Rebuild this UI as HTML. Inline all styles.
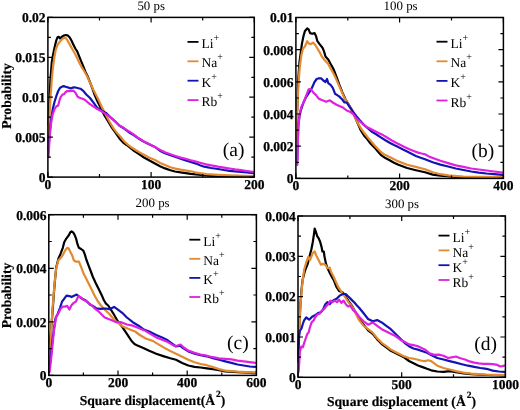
<!DOCTYPE html><html><head><meta charset="utf-8"><title>Probability vs square displacement</title><style>html,body{margin:0;padding:0;background:#fff;}svg{display:block;text-rendering:geometricPrecision;}.tk{font-family:"Liberation Serif",serif;font-weight:bold;font-size:13.5px;fill:#000;stroke:#000;stroke-width:0.25px;}.ti{font-family:"Liberation Serif",serif;font-size:12.9px;fill:#000;}.lg{font-family:"Liberation Serif",serif;font-size:13.5px;fill:#000;}.pl{font-family:"Liberation Serif",serif;font-size:19.5px;fill:#000;}.ax{font-family:"Liberation Serif",serif;font-weight:bold;font-size:13.6px;fill:#000;stroke:#000;stroke-width:0.2px;}</style></head><body>
<svg width="520" height="410" viewBox="0 0 520 410">
<rect width="520" height="410" fill="#fff"/>
<g fill="none" stroke-width="2.2" stroke-linejoin="round" stroke-linecap="round">
<polyline stroke="#000000" points="48.5,125 49.5,99 50.4,80 51.8,62 53.3,53.4 54.8,46.5 56.2,40.7 57.5,37.3 58.7,36.8 60.1,38.5 61.6,37 63.6,35.6 66,35 68,35.6 69.9,37.8 71.6,40.7 73.3,44.6 75.3,48.5 77.2,51.4 79.2,56.3 81.1,61.2 83.1,66 85.5,72 87.5,76 89.9,82 92,87.5 94.3,94 97.3,101.1 101,108.4 104.6,115.7 108.3,121.8 112,127.9 115.6,132.8 119.3,138.2 122.9,142.3 126.6,145 130,147.6 134,150.8 139,154.2 144,157.5 149,160.3 154,163 160,166.2 165,168.4 170.4,170.3 175,171.5 180.6,172.4 190.8,173.8 201,174.8 211.2,175.9 230,176.2 253,176.4"/>
<polyline stroke="#E38A30" points="48.5,142 49.3,118.5 50.4,99 51.8,79.5 53,67 54.3,57.3 55.8,49.5 57.7,44.6 59.7,41.7 62.1,39.2 64,37.8 66,38.4 68,41.2 70.4,45.6 72.8,50 75.3,54.3 77.7,59.2 79.7,63.5 81.5,66.8 84.1,71 87,76 89,80.5 91.4,85.5 93.5,90 96.1,95 99.1,101.1 102.2,107.8 105.9,115.1 109.5,121.8 113.2,127.9 116.8,132.8 120.5,136.8 124.1,141.2 127.8,144.6 132,147.8 136,150.3 140,152.6 144,154.8 149,157.5 155,160 160.2,163 165,165 170.4,167.2 175.5,168.6 180.6,169.7 190.8,171.3 195,172.3 201,173.3 206.5,174.2 218,174.9 229.6,175.4 253,176"/>
<polyline stroke="#1414B4" points="48.5,150 49.5,135 50.5,125 51.5,117 52.7,109.3 54.5,102 56.4,95.9 58.2,91 60,87.9 61.9,86.7 63.7,86.1 65.5,86.7 67.3,87.3 69.2,87.9 71,88.5 72.8,87.6 74.5,87.3 77.5,88 80.4,88.7 83.3,90.9 86.3,94.5 90,98 93.7,102.9 97.3,107.8 101,110.2 105.9,112.9 109.7,116.5 114.5,120.8 119.5,125.8 124.5,128.8 129.2,132.5 134,135.3 139,138.8 144,141.8 149,144.3 155,147 160.2,151 165,153.3 170.4,155.3 175,156.8 180.6,158.6 185,160.2 190.8,162 196,163.6 200,165.2 204.2,166.7 211,168 218,169 224,170 229.6,170.8 235,171.3 241.1,171.9 247,172.5 253,173.1"/>
<polyline stroke="#E020E0" points="48.5,157 49.3,143 50.3,130 51.5,120.2 52.7,114.1 54.5,109.3 56.4,106.2 58.2,105.6 59.4,100.7 60.6,97.1 62.5,94.6 64.3,94 65.5,92.2 67.3,91 69.2,91.2 71.6,91 73.4,90.7 75.3,92.5 77.5,96.5 79.5,97.8 81.1,98.2 84.8,99.7 88.5,103 90,104.1 93.7,106.6 97.3,109 101,110.9 104.6,113.3 108.3,115.7 112,118.8 115.6,121.8 119.3,125.5 122.9,127.3 126.6,129.8 130.2,132.2 133.9,134.6 138.8,138.3 144,141.5 150,144.5 155,147 160.2,149.9 165,152.3 170.4,154.3 175.5,156 180.6,157.6 185.5,158.7 190.8,160.3 196,161.6 201,163 206,164.3 211.2,165.4 218,166.7 224,167.6 229.6,168.5 235,169.4 241.1,170.2 247,171 253,171.9"/>
</g>
<rect x="47.9" y="17.4" width="206.4" height="159.7" fill="none" stroke="#000" stroke-width="1.5"/>
<path d="M47.9 177.1V172.1M47.9 17.4V22.4M99.5 177.1V174.1M99.5 17.4V20.4M151.1 177.1V172.1M151.1 17.4V22.4M202.7 177.1V174.1M202.7 17.4V20.4M254.3 177.1V172.1M254.3 17.4V22.4M47.9 177.1H52.9M254.3 177.1H249.3M47.9 157.1H50.9M254.3 157.1H251.3M47.9 137.2H52.9M254.3 137.2H249.3M47.9 117.2H50.9M254.3 117.2H251.3M47.9 97.2H52.9M254.3 97.2H249.3M47.9 77.3H50.9M254.3 77.3H251.3M47.9 57.3H52.9M254.3 57.3H249.3M47.9 37.4H50.9M254.3 37.4H251.3M47.9 17.4H52.9M254.3 17.4H249.3" stroke="#000" stroke-width="1.2" fill="none"/>
<text class="tk" x="47.9" y="189.1" text-anchor="middle">0</text>
<text class="tk" x="151.1" y="189.1" text-anchor="middle">100</text>
<text class="tk" x="254.3" y="189.1" text-anchor="middle">200</text>
<text class="tk" x="45.6" y="181.9" text-anchor="end">0</text>
<text class="tk" x="45.6" y="142" text-anchor="end">0.005</text>
<text class="tk" x="45.6" y="102" text-anchor="end">0.01</text>
<text class="tk" x="45.6" y="62.1" text-anchor="end">0.015</text>
<text class="tk" x="45.6" y="22.2" text-anchor="end">0.02</text>
<text class="ti" x="151.2" y="10.1" text-anchor="middle">50 ps</text>
<text class="pl" x="244.4" y="156.3" text-anchor="end">(a)</text>
<line x1="187.5" y1="41.9" x2="198.5" y2="41.9" stroke="#000000" stroke-width="1.8"/>
<text class="lg" x="201.5" y="47.9">Li<tspan font-size="10" dy="-7">+</tspan></text>
<line x1="187.5" y1="61.3" x2="198.5" y2="61.3" stroke="#E38A30" stroke-width="1.8"/>
<text class="lg" x="201.5" y="67.3">Na<tspan font-size="10" dy="-7">+</tspan></text>
<line x1="187.5" y1="80.7" x2="198.5" y2="80.7" stroke="#1414B4" stroke-width="1.8"/>
<text class="lg" x="201.5" y="86.7">K<tspan font-size="10" dy="-7">+</tspan></text>
<line x1="187.5" y1="100.1" x2="198.5" y2="100.1" stroke="#E020E0" stroke-width="1.8"/>
<text class="lg" x="201.5" y="106.1">Rb<tspan font-size="10" dy="-7">+</tspan></text>
<g fill="none" stroke-width="2.2" stroke-linejoin="round" stroke-linecap="round">
<polyline stroke="#000000" points="297.2,110 298.2,80 299.5,62 300.6,53.6 302,43.4 303.5,36 305,30.9 307.2,28.4 308.6,29.4 310.1,33.1 312.3,33.8 314.5,33.1 316,36 317.4,41.2 319.6,44.1 322.5,47.7 324,51.4 325.5,56.5 328.4,59.8 330.6,63.9 332.8,67.8 335,72.8 336.8,77.6 339.4,84.9 342.3,92.2 345.2,98.8 348.2,103.9 351.8,109.8 354,114.2 356.6,120.8 361,130.7 364,135.5 367.6,139.5 370.5,143.5 374.2,147.1 377.5,151 380.8,154.8 385,157.8 389.6,160.3 394,162.7 398.4,164.7 407.1,168 415.9,170.2 425,172.3 432.7,174.6 440.4,175.7 455.8,176.9 480,177.3 502.5,177.5"/>
<polyline stroke="#E38A30" points="297,140 297.4,106 298.5,84 299.6,68.5 301.3,55.4 302.8,49.2 305,46.3 307.2,41.2 308.6,43.4 310.8,44.1 313,42.6 315.2,44.8 317.4,48.5 319.6,52.1 321.8,56.5 324.7,60.2 327.7,63.1 330.6,68.5 333.5,73.5 335.5,77.6 338.7,84.9 341.6,91.5 344.5,98.1 348.2,103.9 352,111 355.5,118.6 358,123.5 361,128.5 364.5,133.3 367.6,137.2 371,141.2 374.2,145 377.5,148.5 380.8,152 385,154.8 389.6,157 394,159.3 398.4,161.4 407.1,164.7 415.9,166.9 425,169.2 432.7,172.3 440.4,174.2 448.1,175.4 463.5,176.6 502.5,177.2"/>
<polyline stroke="#1414B4" points="297.3,160 297.8,140 298.4,125 299.5,116 300.6,111.2 303.5,102.5 306.4,96.6 309.4,92.2 312.3,87.1 314.5,82 316.7,79 318.9,78.3 321.1,78.3 323.3,80.5 325.5,82 327,79 328.4,83.4 330.6,84.9 332.8,87.8 335,93.7 337.2,95.1 339.4,96.6 342.3,99.5 344.5,102.5 346.7,102.5 349.6,106.9 352.6,111.2 356.6,116.4 360,120.5 363.2,124.1 367.5,128 372,131.8 376.5,134.5 380.8,137.3 385,140 389.6,142.7 394,145 398.4,147.1 402.5,149.3 407.1,151.5 411.5,153.8 415.9,155.9 420,157.5 425,159.2 432.7,162.3 440.4,164.6 448.1,166.5 455.8,168.5 463.5,170 471.2,171.5 478.8,172.6 486.5,173.5 494.2,174.2 502.5,174.8"/>
<polyline stroke="#E020E0" points="297.3,165 297.8,145 298.4,125 299.5,115 301.3,106.9 303.5,102.5 306.4,95.1 308.6,89.3 310.8,89 313,92.2 316,95.1 318.9,98.8 322.5,100.3 326.2,101.7 329.9,100.3 332.8,102.5 336.5,104.7 339.4,106.1 343,107.6 346.7,110.5 350.4,112 353.3,114.2 356.6,118.6 361,122.5 365.4,126.3 369.8,128.5 374.2,130.7 378.6,133 383,135.1 387.4,137.8 391.8,140.5 396,142.8 400.5,145 405,147.2 409.3,149.3 413.7,151 418.1,152.6 421.5,153.5 425,154.3 429.6,156.9 434.2,158.5 440.4,160.8 448.1,163.1 455.8,165.4 463.5,166.9 471.2,168.5 478.8,169.5 486.5,170.5 494.2,171.5 502.5,172.6"/>
</g>
<rect x="295.9" y="17.5" width="207.5" height="160.9" fill="none" stroke="#000" stroke-width="1.5"/>
<path d="M295.9 178.4V173.4M295.9 17.5V22.5M347.8 178.4V175.4M347.8 17.5V20.5M399.6 178.4V173.4M399.6 17.5V22.5M451.5 178.4V175.4M451.5 17.5V20.5M503.4 178.4V173.4M503.4 17.5V22.5M295.9 178.4H300.9M503.4 178.4H498.4M295.9 162.3H298.9M503.4 162.3H500.4M295.9 146.2H300.9M503.4 146.2H498.4M295.9 130.1H298.9M503.4 130.1H500.4M295.9 114H300.9M503.4 114H498.4M295.9 98H298.9M503.4 98H500.4M295.9 81.9H300.9M503.4 81.9H498.4M295.9 65.8H298.9M503.4 65.8H500.4M295.9 49.7H300.9M503.4 49.7H498.4M295.9 33.6H298.9M503.4 33.6H500.4M295.9 17.5H300.9M503.4 17.5H498.4" stroke="#000" stroke-width="1.2" fill="none"/>
<text class="tk" x="295.9" y="190.4" text-anchor="middle">0</text>
<text class="tk" x="399.6" y="190.4" text-anchor="middle">200</text>
<text class="tk" x="503.4" y="190.4" text-anchor="middle">400</text>
<text class="tk" x="293.6" y="183.2" text-anchor="end">0</text>
<text class="tk" x="293.6" y="151" text-anchor="end">0.002</text>
<text class="tk" x="293.6" y="118.8" text-anchor="end">0.004</text>
<text class="tk" x="293.6" y="86.7" text-anchor="end">0.006</text>
<text class="tk" x="293.6" y="54.5" text-anchor="end">0.008</text>
<text class="tk" x="293.6" y="22.3" text-anchor="end">0.01</text>
<text class="ti" x="400.6" y="9.9" text-anchor="middle">100 ps</text>
<text class="pl" x="494.3" y="157.2" text-anchor="end">(b)</text>
<line x1="436.5" y1="41.7" x2="447.5" y2="41.7" stroke="#000000" stroke-width="1.8"/>
<text class="lg" x="450.5" y="47.7">Li<tspan font-size="10" dy="-7">+</tspan></text>
<line x1="436.5" y1="61.3" x2="447.5" y2="61.3" stroke="#E38A30" stroke-width="1.8"/>
<text class="lg" x="450.5" y="67.3">Na<tspan font-size="10" dy="-7">+</tspan></text>
<line x1="436.5" y1="80.9" x2="447.5" y2="80.9" stroke="#1414B4" stroke-width="1.8"/>
<text class="lg" x="450.5" y="86.9">K<tspan font-size="10" dy="-7">+</tspan></text>
<line x1="436.5" y1="100.5" x2="447.5" y2="100.5" stroke="#E020E0" stroke-width="1.8"/>
<text class="lg" x="450.5" y="106.5">Rb<tspan font-size="10" dy="-7">+</tspan></text>
<g fill="none" stroke-width="2.2" stroke-linejoin="round" stroke-linecap="round">
<polyline stroke="#000000" points="49.5,355 50.3,340 51.1,330 52.6,311 54,292 55,280 56.2,267.5 58.4,258.8 60.6,253.7 62.8,247.8 64.3,242 66.5,238.3 68.7,235.4 70.2,232.4 71.6,231.4 73.1,232.4 74.5,234.6 76,238.3 77.5,244.2 78.9,247.8 81.1,249 83.3,250.7 84.8,254.4 86.3,259.5 88.5,265.4 90.5,270.5 92.9,277 95.8,283.2 98.7,289 101.6,294.9 103.8,300 106,303.7 108.2,305.5 110.5,309 112.9,312.8 117.6,321 122.2,326.8 126.9,333.9 131.6,341 134.5,344 137.5,345.6 143.3,347.9 149.2,350.7 156.2,353.8 163.2,356.1 170.3,358.3 176,359.8 182.2,362.9 188.3,365.5 194.5,366.8 200.6,367.5 206.8,368.3 212.9,369.1 219.1,370.2 225.2,371.4 237.5,372.2 255.5,372.9"/>
<polyline stroke="#E38A30" points="49.5,358 50.5,340 51.5,325 52.8,305 54,290 55,279 56.2,268.3 58.4,260.3 60.6,258.1 62.8,255.1 65,250.7 67.2,247.8 68.7,248.5 70.2,251.5 72.4,255.9 73.8,260.3 76,261.7 78.9,261.7 81.1,266.9 83.3,273 85.5,277.2 88.5,283.2 91.4,289 94.3,294.9 97.2,300.3 100.5,305 104.6,309.4 109.4,314 114.1,319.8 118.7,323.3 123.4,326.8 129.3,329.2 135.1,331.5 139.8,335 145.7,338.5 152.7,340.9 158.5,344.4 164.4,347.9 170.3,351 176,353.7 182.2,356.8 188.3,359.8 194.5,362.2 200.6,364 206.8,365.2 212.9,367.1 219.1,369.1 225.2,370.6 237.5,371.7 255.5,372.6"/>
<polyline stroke="#1414B4" points="49.5,368 51,355 52.5,340 54,328.6 55.5,318.3 57.7,313.9 59.9,308.1 62.1,301.5 64.3,298.6 66.5,295.6 69.4,296.1 71.6,297.1 74.5,295.6 76.7,294.6 78.9,296.4 81.9,298.6 84.8,300 87.7,302.2 90.7,305.1 93.6,306.3 96.5,308.4 100.2,308.8 103.8,308.6 106,308.5 109.4,309.3 114.1,306.9 117.6,309.3 122.2,312.8 126.9,317.5 132.8,322.2 138.6,325.7 143.3,329.2 149.2,331.5 156.2,335 162.1,337.4 166.7,339.7 171.4,343.2 176,346.5 180.1,345.6 182.2,347.5 188.3,351.4 194.5,353.7 200.6,355.2 206.8,356.3 212.9,358.3 219.1,359.8 225.2,361.4 231.4,362.9 237.5,364.5 243.7,365.5 249.8,366.5 255.5,366.8"/>
<polyline stroke="#E020E0" points="49.5,372 51,360 52.5,345 54,330 56.2,316.9 58.4,313.2 60.6,308.8 62.8,306.6 65,306.6 67.2,305.9 69.4,309.5 71.6,305.1 73.8,302.9 76,301.5 78.2,296.4 80.4,297.1 82.6,299.3 85.5,300.7 88.5,302.9 91.4,305.1 94.3,308.1 97.2,310.3 100.2,313 104.7,317.5 110.5,319.8 116.4,322.2 121.1,322.2 126.9,324.5 132.8,325.7 138.6,328 144.5,330.4 150.4,333.9 156.2,337.4 162.1,339.7 167.9,342.1 173.8,345.6 176,346 180.6,344.5 183.7,347.5 188.3,350.6 194.5,352.9 200.6,354.5 206.8,355.7 212.9,357.2 219.1,358.3 225.2,358.8 231.4,359.4 237.5,360.6 243.7,361.4 249.8,362.2 255.5,362.9"/>
</g>
<rect x="48.8" y="214.7" width="207.6" height="160.7" fill="none" stroke="#000" stroke-width="1.5"/>
<path d="M48.8 375.4V370.4M48.8 214.7V219.7M83.4 375.4V372.4M83.4 214.7V217.7M118 375.4V370.4M118 214.7V219.7M152.6 375.4V372.4M152.6 214.7V217.7M187.2 375.4V370.4M187.2 214.7V219.7M221.8 375.4V372.4M221.8 214.7V217.7M256.4 375.4V370.4M256.4 214.7V219.7M48.8 375.4H53.8M256.4 375.4H251.4M48.8 348.6H51.8M256.4 348.6H253.4M48.8 321.8H53.8M256.4 321.8H251.4M48.8 295H51.8M256.4 295H253.4M48.8 268.3H53.8M256.4 268.3H251.4M48.8 241.5H51.8M256.4 241.5H253.4M48.8 214.7H53.8M256.4 214.7H251.4" stroke="#000" stroke-width="1.2" fill="none"/>
<text class="tk" x="48.8" y="387.4" text-anchor="middle">0</text>
<text class="tk" x="118" y="387.4" text-anchor="middle">200</text>
<text class="tk" x="187.2" y="387.4" text-anchor="middle">400</text>
<text class="tk" x="256.4" y="387.4" text-anchor="middle">600</text>
<text class="tk" x="46.5" y="380.2" text-anchor="end">0</text>
<text class="tk" x="46.5" y="326.6" text-anchor="end">0.002</text>
<text class="tk" x="46.5" y="273.1" text-anchor="end">0.004</text>
<text class="tk" x="46.5" y="219.5" text-anchor="end">0.006</text>
<text class="ti" x="152.6" y="207.2" text-anchor="middle">200 ps</text>
<text class="pl" x="248.7" y="349.2" text-anchor="end">(c)</text>
<line x1="189.3" y1="239.7" x2="200.3" y2="239.7" stroke="#000000" stroke-width="1.8"/>
<text class="lg" x="203.3" y="245.7">Li<tspan font-size="10" dy="-7">+</tspan></text>
<line x1="189.3" y1="258.8" x2="200.3" y2="258.8" stroke="#E38A30" stroke-width="1.8"/>
<text class="lg" x="203.3" y="264.8">Na<tspan font-size="10" dy="-7">+</tspan></text>
<line x1="189.3" y1="277.9" x2="200.3" y2="277.9" stroke="#1414B4" stroke-width="1.8"/>
<text class="lg" x="203.3" y="283.9">K<tspan font-size="10" dy="-7">+</tspan></text>
<line x1="189.3" y1="297" x2="200.3" y2="297" stroke="#E020E0" stroke-width="1.8"/>
<text class="lg" x="203.3" y="303">Rb<tspan font-size="10" dy="-7">+</tspan></text>
<g fill="none" stroke-width="2.2" stroke-linejoin="round" stroke-linecap="round">
<polyline stroke="#000000" points="298.5,355 298.9,335 299.7,318.9 300.4,304.3 301.5,290 302.6,280 304.8,271.2 307.7,263.9 309.9,255.1 311.4,249.3 312.8,242 313.9,234.6 314.7,228.5 315.8,231.7 317.2,236.1 318.7,238.3 320.2,242 321.6,247.1 322.4,251.5 323.8,251.5 324.5,256.6 326,263.9 327.5,268.3 329.7,272.7 331.9,277 334.1,280.8 336.3,286.7 339.2,291.1 342.9,292.6 345.8,297 348.7,301.4 352.4,306.5 355,311.5 359.1,319 363.6,324.7 368.1,330.4 372.7,333.8 377.2,339.4 381.7,344 386.3,347.4 390.8,350.8 395.4,353 399.9,355.3 404.4,357.6 409,361 413.5,363.3 418,365.5 422.6,367.1 427,368.8 431.2,370.3 437.3,371.5 443.5,371.8 449.6,371.1 455.8,372.2 463.5,373.4 471.2,374.2 486.5,375 504.5,375.4"/>
<polyline stroke="#E38A30" points="298.5,358 298.9,340 299.7,322 300.4,306 301.5,292 302.6,281 304.1,269.8 306.2,262.5 308.4,256.6 309.9,260.3 311.4,256.6 312.8,252.9 314.7,251.5 316.5,255.9 318.7,260.3 320.9,264.7 323.1,263.9 325.3,264.7 327.5,268.3 329.7,267.6 331.1,272 333.3,276 335.5,281 338.5,287.5 342.1,292.6 345,297 348.7,302.5 352.4,307 355,312 359.1,320.1 363.6,325.8 368.1,329.2 372.7,332.6 377.2,338.3 381.7,342.8 386.3,346.2 390.8,349.6 395.4,351.9 399.9,354.2 404.4,356.4 409,358 413.5,358.7 418,359.8 422.6,361 425,361.1 428.1,360.3 431.2,361.1 434.2,363.4 437.3,365.7 443.5,368 449.6,369.5 455.8,371.1 463.5,372.6 471.2,373.7 486.5,374.6 504.5,375.2"/>
<polyline stroke="#1414B4" points="298.4,362 298.7,348 299.1,336 299.8,331 301.5,328.5 302.8,324 304.1,320.4 306.2,317.5 309.2,319.7 312.1,316.7 315,315.3 318,313.1 320.9,312.3 323.1,309.4 325.3,304.3 327.5,302.1 329.7,304.3 331.9,301.4 334.1,299.9 337,298.4 339.9,295.5 342.9,294 345.8,294 348,296.2 350.2,298.4 352.4,300.6 354.6,302.8 356.5,305 359.1,307.7 363.6,313.3 368.1,319 372.7,321.3 377.2,320.1 381.7,322.4 386.3,325.8 390.8,329.2 395.4,333.8 399.9,338.3 404.4,342.8 409,346.2 413.5,348.5 418,349.6 422.6,351.2 427,352.8 431.2,354.9 437.3,358 443.5,359.5 449.6,361.1 455.8,362.6 461.9,364.2 468.1,365.7 474.2,366.9 480.4,368 486.5,368.8 492.7,370.6 498.8,371.5 504.5,371.8"/>
<polyline stroke="#E020E0" points="298.6,372 299.1,364.9 299.9,351.7 301.3,346.5 302.8,347.3 304.2,342.9 305.7,338.5 307.2,334.1 308.6,332.6 310.1,326.8 311.6,322.4 313.8,320.2 315,317.5 317.2,314.5 319.4,313.8 321.6,310.9 323.8,309.4 326,306.5 328.2,304.3 330.4,300.6 332.6,302.1 334.8,300.6 337,302.1 339.2,299.9 341.4,302.8 343.6,300.6 345.8,304.3 348,306.5 350.2,305.7 353.1,310.1 356,312.3 359.1,316.7 363.6,321.3 368.1,324.7 372.7,322.4 377.2,325.8 381.7,329.2 386.3,331.5 390.8,333.8 395.4,336 399.9,339.4 404.4,341.7 409,344.4 413.5,345.1 418,346.2 422.6,348.5 425,349.5 429.6,353.4 434.2,354.9 438.8,354.6 443.5,355.7 448.1,358 452.7,357.2 455.8,356.5 460.4,358.3 465,359.5 469.6,361.4 474.2,362.6 478.8,363.4 483.5,363.8 488.1,363.8 492.7,364.2 497.3,364.9 500.4,366.5 504.5,365.7"/>
</g>
<rect x="298" y="216" width="207.4" height="161.3" fill="none" stroke="#000" stroke-width="1.5"/>
<path d="M298 377.3V372.3M298 216V221M349.9 377.3V374.3M349.9 216V219M401.7 377.3V372.3M401.7 216V221M453.5 377.3V374.3M453.5 216V219M505.4 377.3V372.3M505.4 216V221M298 377.3H303M505.4 377.3H500.4M298 357.1H301M505.4 357.1H502.4M298 337H303M505.4 337H500.4M298 316.8H301M505.4 316.8H502.4M298 296.6H303M505.4 296.6H500.4M298 276.5H301M505.4 276.5H502.4M298 256.3H303M505.4 256.3H500.4M298 236.2H301M505.4 236.2H502.4M298 216H303M505.4 216H500.4" stroke="#000" stroke-width="1.2" fill="none"/>
<text class="tk" x="298" y="389.3" text-anchor="middle">0</text>
<text class="tk" x="401.7" y="389.3" text-anchor="middle">500</text>
<text class="tk" x="505.4" y="389.3" text-anchor="middle">1000</text>
<text class="tk" x="295.7" y="382.1" text-anchor="end">0</text>
<text class="tk" x="295.7" y="341.8" text-anchor="end">0.001</text>
<text class="tk" x="295.7" y="301.4" text-anchor="end">0.002</text>
<text class="tk" x="295.7" y="261.1" text-anchor="end">0.003</text>
<text class="tk" x="295.7" y="220.8" text-anchor="end">0.004</text>
<text class="ti" x="402" y="208.4" text-anchor="middle">300 ps</text>
<text class="pl" x="497" y="349.5" text-anchor="end">(d)</text>
<line x1="438.5" y1="235.6" x2="449.5" y2="235.6" stroke="#000000" stroke-width="1.8"/>
<text class="lg" x="452.5" y="242.4">Li<tspan font-size="10" dy="-7">+</tspan></text>
<line x1="438.5" y1="250.4" x2="449.5" y2="250.4" stroke="#E38A30" stroke-width="1.8"/>
<text class="lg" x="452.5" y="257.2">Na<tspan font-size="10" dy="-7">+</tspan></text>
<line x1="438.5" y1="265.2" x2="449.5" y2="265.2" stroke="#1414B4" stroke-width="1.8"/>
<text class="lg" x="452.5" y="272">K<tspan font-size="10" dy="-7">+</tspan></text>
<line x1="438.5" y1="280" x2="449.5" y2="280" stroke="#E020E0" stroke-width="1.8"/>
<text class="lg" x="452.5" y="286.8">Rb<tspan font-size="10" dy="-7">+</tspan></text>
<text class="ax" transform="translate(10.6,96) rotate(-90)" text-anchor="middle">Probability</text>
<text class="ax" transform="translate(10.6,295.5) rotate(-90)" text-anchor="middle">Probability</text>
<text class="ax" x="152.5" y="404.5" text-anchor="middle">Square displacement(Å<tspan font-size="9.5" dx="1" dy="-8">2</tspan><tspan dy="8">)</tspan></text>
<text class="ax" x="401.5" y="405.5" text-anchor="middle">Square displacement (Å<tspan font-size="9.5" dx="1" dy="-8">2</tspan><tspan dy="8">)</tspan></text>
</svg></body></html>
